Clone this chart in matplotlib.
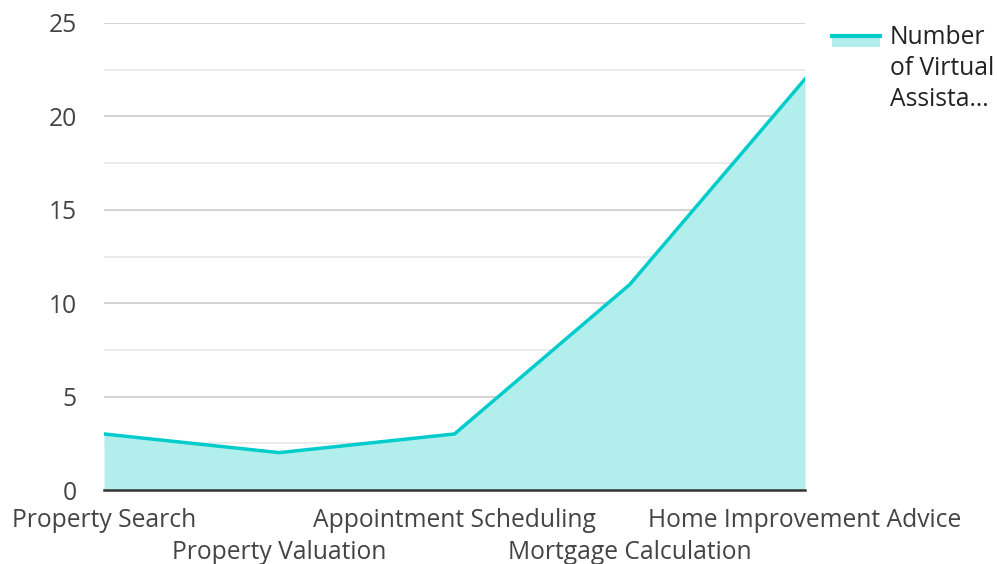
import matplotlib
matplotlib.use("Agg")
import matplotlib.pyplot as plt
from matplotlib.lines import Line2D
from matplotlib.patches import Rectangle

categories = ["Property Search", "Property Valuation", "Appointment Scheduling",
              "Mortgage Calculation", "Home Improvement Advice"]
values = [3, 2, 3, 11, 22]
series_name = "Number\nof Virtual\nAssista..."
yticks = [0, 5, 10, 15, 20, 25]

plt.rcParams['font.family'] = ['Open Sans', 'DejaVu Sans']
line_color = "#00CCCC"
fill_color = "#B2EEEC"
text_color = "#444444"
fs = 17.7

fig = plt.figure(figsize=(9.97, 5.64), dpi=100)
ax = fig.add_axes([104/997, 1-490/564, (805-104)/997, (490-23)/564])

x = list(range(len(categories)))
ax.fill_between(x, values, 0, color=fill_color, linewidth=0, zorder=2)
ax.plot(x, values, color=line_color, linewidth=2.5, zorder=3, solid_joinstyle='miter')

ax.set_xlim(0, len(categories) - 1)
ax.set_ylim(0, 25)
ax.set_yticks(yticks)
ax.set_yticks([2.5, 7.5, 12.5, 17.5, 22.5], minor=True)
ax.grid(axis='y', which='major', color='#cccccc', linewidth=1.2, zorder=1)
ax.grid(axis='y', which='minor', color='#e8e8e8', linewidth=1.2, zorder=1)
ax.set_axisbelow(True)
for s in ['top', 'right', 'left']:
    ax.spines[s].set_visible(False)
ax.spines['bottom'].set_color('#333333')
ax.spines['bottom'].set_linewidth(1.8)
ax.spines['bottom'].set_zorder(4)
ax.tick_params(axis='y', which='both', length=0, labelsize=fs, labelcolor=text_color, pad=19.5)
ax.tick_params(axis='x', length=0, labelsize=fs, labelcolor=text_color)
ax.set_xticks(x)
ax.set_xticklabels(categories)
for i, lbl in enumerate(ax.get_xticklabels()):
    lbl.set_y((490-516)/467 if i % 2 == 0 else (490-548)/467)
    lbl.set_va('center')

# legend
fig.add_artist(Rectangle((832/997, 1-47/564), 48/997, 10/564, transform=fig.transFigure,
                         facecolor=fill_color, edgecolor='none'))
fig.add_artist(Line2D([832/997, 880/997], [1-36/564, 1-36/564], transform=fig.transFigure,
                      color=line_color, linewidth=3))
for j, line in enumerate(series_name.split("\n")):
    fig.text(890/997, 1-(37 + 31.5*j)/564, line, fontsize=fs, color='#222222',
             va='center', ha='left')

fig.savefig("out.png", dpi=100)
